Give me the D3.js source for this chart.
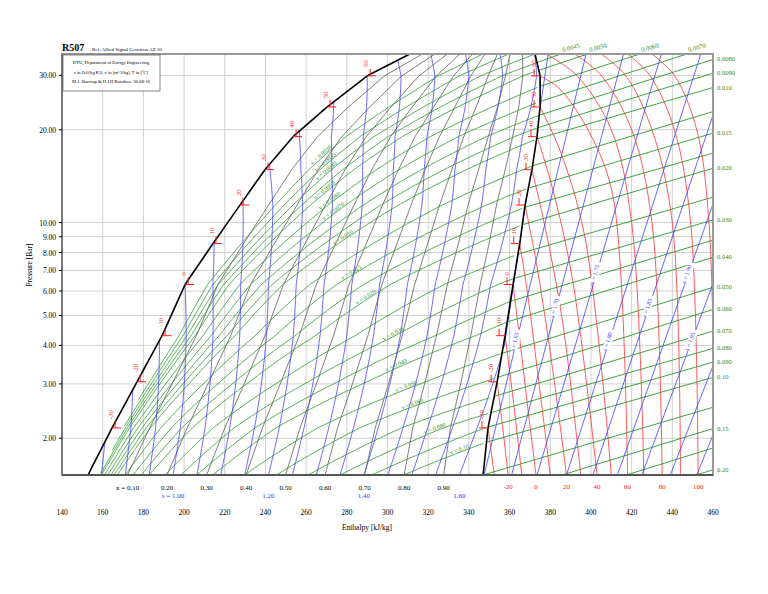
<!DOCTYPE html>
<html><head><meta charset="utf-8">
<script src="https://cdn.jsdelivr.net/npm/d3@7"></script>
<style>body{margin:0;background:#fff}svg{font-family:"Liberation Serif","Times New Roman",serif}text{fill:#000}</style>
</head><body><svg id="c" width="768" height="594"></svg>
<script>
// Saturation table (R507)
const satT  = [-50,-45,-38.5,-30,-20,-10,0,10,20,30,40,50,60,68];
const satP  = [0.83,1.07,1.52,2.16,3.05,4.3,6.3,8.55,11.4,14.85,19.0,23.7,29.9,35.2];
const satHl = [136,142,152.8,164.6,176.9,189.2,200.5,214.2,227.5,239.8,253.6,270.3,290,311];
const satHv = [340.8,343.5,347,349.4,353.9,357.8,361.7,365,367.6,371,373.5,375,375,372.5];
const satSl = [0.78,0.80,0.822,0.862,0.908,0.955,1.00,1.048,1.095,1.142,1.19,1.24,1.30,1.37];
const satVv = [0.22,0.175,0.125,0.0907,0.0621,0.0437,0.0314,0.0231,0.0172,0.0129,0.0098,0.0074,0.0054,0.0040];
const satVl = [0.00079,0.0008,0.00081,0.00083,0.00085,0.00088,0.00091,0.00095,0.00099,0.00105,0.00112,0.0012,0.00133,0.0016];
// axis ticks
const hTicks = [140,160,180,200,220,240,260,280,300,320,340,360,380,400,420,440,460];
const pTicks = [2,3,4,5,6,7,8,9,10,20,30];
const qualities = [0.1,0.2,0.3,0.4,0.5,0.6,0.7,0.8,0.9];
const markTemps = [-30,-20,-10,0,10,20,30,40,50,60];
// isentropes
const domeS = [0.85,0.90,0.95,1.00,1.05,1.10,1.15,1.20,1.25,1.30,1.35,1.40,1.45,1.50,1.55,1.60,1.65];
const sLabels = [1.00,1.20,1.40,1.60];
const vapS = [1.70,1.75,1.80,1.85,1.90,1.95,2.00,2.05];
const vapHBottom = [361,373.5,388,401,413,425,439,452];
const vapHTop = [416,434.6,454,470,486,502,520,536];
const s160Top = 379, s165Top = 397.6;
const vapSLabels = ["1.65","1.70","1.75","1.80","1.85","1.90","1.95"];
// isochores
const isoV = [0.003,0.0035,0.004,0.0045,0.005,0.006,0.007,0.008,0.009,0.010,0.0125,0.015,0.0175,0.020,0.025,0.030,0.035,0.040,0.050,0.060,0.070,0.080,0.090,0.10,0.125,0.15,0.175,0.20];
const isoPRight = [null,null,null,53,48,42,37.5,33.8,30.5,27.4,22.9,19.5,16.8,15.0,12.1,10.2,8.77,7.72,6.17,5.23,4.45,3.91,3.53,3.15,2.52,2.15,1.86,1.58];
const isoRightLabel = ["","","","","","","","0.0080","0.0090","0.010","","0.015","","0.020","","0.030","","0.040","0.050","0.060","0.070","0.080","0.090","0.10","","0.15","","0.20"];
const isoTopLabel = ["","","","0.0045","0.0050","0.0060","0.0070","","","","","","","","","","","","","","","","","","","","",""];
const domeVLabel = ["0.0030","0.0035","0.0040","","0.0050","0.0060","0.0070","","","0.010","","0.015","","0.020","","0.030","","0.040","0.050","0.060","","0.080","","0.10","","","",""];
// superheated isotherms [h,p]
const isoTemps = [-30,-20,-10,0,10,20,30,40,50,60,70,80,90,100,110];
const isoPts = [
 [[349.4,2.16],[351,1.8],[352.5,1.52]],
 [[353.9,3.05],[356.5,2.2],[359.3,1.52]],
 [[357.8,4.3],[362,2.6],[366,1.52]],
 [[361.7,6.3],[365,4.2],[369,2.5],[373,1.52]],
 [[365,8.55],[369,5.8],[374.5,3],[380,1.52]],
 [[367.6,11.4],[373,7.5],[380,3.8],[388,1.52]],
 [[371,14.85],[377,10],[386,4.8],[395,1.52]],
 [[373.5,19],[381,13],[391,6.5],[403,1.52]],
 [[375,23.7],[385,17],[397,9],[410,1.52]],
 [[375,29.9],[385,27],[401,18.6],[411,12],[418,1.52]],
 [[378,35.2],[393,30],[410,20],[420,10],[426,1.52]],
 [[392,35.2],[405,30],[420,20],[430,10],[435,1.52]],
 [[405,35.2],[417,30],[430,20],[440,10],[444,1.52]],
 [[418,35.2],[429,30],[441,20],[449,10],[452.7,1.52]],
 [[430,35.2],[441,30],[452,20],[458,10],[461,1.52]]];
const isoBottomLabels = [-20,0,20,40,60,80,100];

const svg = d3.select("#c");
const x = d3.scaleLinear().domain([140,460]).range([62,713]);
const y = d3.scaleLog().domain([1.52,35.2]).range([475,54]);
const pMin=1.52, pMax=35.2;
const lp = satP.map(Math.log);
function sat(p){
  const l=Math.log(p); let i=0;
  while(i<lp.length-2 && l>lp[i+1]) i++;
  const f=(l-lp[i])/(lp[i+1]-lp[i]);
  const L=(a)=>a[i]+f*(a[i+1]-a[i]);
  const G=(a)=>Math.exp(Math.log(a[i])+f*(Math.log(a[i+1])-Math.log(a[i])));
  return {hl:L(satHl),hv:L(satHv),sl:L(satSl),T:L(satT)+273.15,vv:G(satVv),vl:G(satVl)};
}
const N=240;
const pSamples = d3.range(N+1).map(i=>Math.exp(Math.log(pMin)+(Math.log(pMax)-Math.log(pMin))*i/N));
const line = d3.line().x(d=>x(d[0])).y(d=>y(d[1]));

const defs = svg.append("defs");
const liq = pSamples.map(p=>[sat(p).hl,p]);
const vap = pSamples.map(p=>[sat(p).hv,p]);
defs.append("clipPath").attr("id","plot").append("rect").attr("x",62).attr("y",54).attr("width",651).attr("height",421);
defs.append("clipPath").attr("id","dome").append("path").attr("d",line(liq.concat(vap.slice().reverse()))+"Z");
defs.append("clipPath").attr("id","vapr").append("path")
  .attr("d",line(vap)+`L${x(470)},${y(pMax)}L${x(470)},${y(pMin)}Z`);

const g = svg.append("g");
g.selectAll(".gv").data(hTicks.slice(1,-1)).join("line").attr("x1",d=>x(d)).attr("x2",d=>x(d)).attr("y1",54).attr("y2",475).attr("stroke","#d0d0d0").attr("stroke-width",1);
g.selectAll(".gh").data(pTicks).join("line").attr("x1",62).attr("x2",713).attr("y1",d=>y(d)).attr("y2",d=>y(d)).attr("stroke","#d0d0d0").attr("stroke-width",1);

const domeG = svg.append("g").attr("clip-path","url(#dome)");
const vapG = svg.append("g").attr("clip-path","url(#vapr)").append("g").attr("clip-path","url(#plot)");
const topG = svg.append("g").attr("clip-path","url(#plot)");

const cr = d3.line().x(d=>x(d[0])).y(d=>y(d[1])).curve(d3.curveCatmullRom);
vapG.selectAll(".it").data(isoPts).join("path").attr("d",cr).attr("fill","none").attr("stroke","#ff3030").attr("stroke-width",0.8);

qualities.forEach(q=>{
  const pts=pSamples.map(p=>{const s=sat(p);return [s.hl+q*(s.hv-s.hl),p];});
  domeG.append("path").attr("d",line(pts)).attr("fill","none").attr("stroke","#555").attr("stroke-width",0.8);
  svg.append("text").attr("x",x(pts[0][0])).attr("y",490).attr("text-anchor","middle").attr("font-size",7).text((q===0.1?"x = ":"")+q.toFixed(2));
});

const fine=d3.range(0,401).map(i=>Math.exp(Math.log(0.83)+(Math.log(35.2)-Math.log(0.83))*i/400));
isoV.forEach((v,k)=>{
  const pts=[];
  pSamples.forEach(p=>{const s=sat(p);const q=(v-s.vl)/(s.vv-s.vl); if(q>=0.03&&q<=1.0) pts.push([s.hl+q*(s.hv-s.hl),p]);});
  if(pts.length>1){
    domeG.append("path").attr("d",line(pts)).attr("fill","none").attr("stroke","#2a9a2a").attr("stroke-width",0.8);
    if(domeVLabel[k]){
      const j=Math.floor(pts.length*0.7);
      const m=pts[j], m2=pts[Math.min(pts.length-1,j+3)];
      const ang=Math.atan2(y(m2[1])-y(m[1]),x(m2[0])-x(m[0]))*180/Math.PI;
      svg.append("text").attr("transform",`translate(${x(m[0])},${y(m[1])-1}) rotate(${ang})`).attr("font-size",6).style("fill","#2a8a2a").attr("text-anchor","middle").text("v = "+domeVLabel[k]);
    }
  }
  let ps=null;
  for(let i=0;i<fine.length-1;i++){const a=sat(fine[i]).vv,b=sat(fine[i+1]).vv; if(a>=v&&b<=v){ps=fine[i]+(fine[i+1]-fine[i])*(a-v)/(a-b);break;}}
  if(ps&&isoPRight[k]){
    const start=[sat(ps).hv,ps], end=[460,isoPRight[k]];
    vapG.append("path").attr("d",line([start,end])).attr("fill","none").attr("stroke","#2a9a2a").attr("stroke-width",0.9);
    if(isoRightLabel[k]) svg.append("text").attr("x",717).attr("y",y(end[1])+2).attr("font-size",6.5).style("fill","#2a8a2a").text(isoRightLabel[k]);
    if(isoTopLabel[k]){
      const f=(Math.log(pMax)-Math.log(start[1]))/(Math.log(end[1])-Math.log(start[1]));
      const ht=start[0]+f*(end[0]-start[0]);
      svg.append("text").attr("transform",`translate(${x(ht)+2},${52}) rotate(-15)`).attr("font-size",6.5).style("fill","#2a8a2a").text(isoTopLabel[k]);
    }
  }
});

const exitPts={};
domeS.forEach(sv=>{
  const pts=[];
  pSamples.forEach(p=>{const s=sat(p);const h=s.hl+s.T*(sv-s.sl); if(h>=s.hl-0.5&&h<=s.hv+0.5) pts.push([h,p]);});
  if(pts.length>1){
    domeG.append("path").attr("d",line(pts)).attr("fill","none").attr("stroke","#4040ff").attr("stroke-width",0.8);
    exitPts[sv.toFixed(2)]=pts;
  }
});
sLabels.forEach(sv=>{const s=sat(pMin);const h=s.hl+s.T*(sv-s.sl);
  svg.append("text").attr("x",x(h)).attr("y",498).attr("text-anchor","middle").attr("font-size",7).style("fill","#3333ff").text((sv===1?"s = ":"")+sv.toFixed(2));});
function vline(a,b){vapG.append("path").attr("d",line([a,b])).attr("fill","none").attr("stroke","#4040ff").attr("stroke-width",0.8);}
const vs=[];
if(exitPts["1.60"]){const pts=exitPts["1.60"]; const e=pts[pts.length-1]; vs.push([[e[0],e[1]],[s160Top,pMax]]);}
vs.push([[347.5,pMin],[s165Top,pMax]]);
vapS.forEach((s,i)=>vs.push([[vapHBottom[i],pMin],[vapHTop[i],pMax]]));
vs.forEach(d=>vline(d[0],d[1]));
vs.slice(-9).forEach((d,i)=>{
  if(!vapSLabels[i])return;
  const f=0.32+0.08*(i%3); const lpA=Math.log(d[0][1]),lpB=Math.log(d[1][1]);
  const p=Math.exp(lpA+f*(lpB-lpA)), h=d[0][0]+f*(d[1][0]-d[0][0]);
  if(h>452)return;
  const ang=Math.atan2(y(d[1][1])-y(d[0][1]),x(d[1][0])-x(d[0][0]))*180/Math.PI;
  svg.append("rect").attr("x",x(h)-11).attr("y",y(p)-4).attr("width",22).attr("height",7).attr("fill","#fff").attr("transform",`rotate(${ang},${x(h)},${y(p)})`);
  svg.append("text").attr("transform",`translate(${x(h)},${y(p)+2}) rotate(${ang})`).attr("font-size",6).style("fill","#3333ff").attr("text-anchor","middle").text("s = "+vapSLabels[i]);
});

topG.append("path").attr("d",line(liq)).attr("fill","none").attr("stroke","#000").attr("stroke-width",1.6);
topG.append("path").attr("d",line(vap)).attr("fill","none").attr("stroke","#000").attr("stroke-width",1.6);

markTemps.forEach(T=>{
  const i=satT.indexOf(T); const px=x(satHl[i]), py=y(satP[i]);
  svg.append("path").attr("d",`M${px},${py}H${px+9}M${px+3},${py}V${py-7}`).attr("stroke","#ff2020").attr("fill","none");
  svg.append("text").attr("transform",`translate(${px+1},${py-9}) rotate(-90)`).attr("font-size",6.5).style("fill","#ff2020").text(T);
  const vx=x(satHv[i]);
  svg.append("path").attr("d",`M${vx},${py}H${vx-9}M${vx-6},${py}V${py-7}`).attr("stroke","#ff2020").attr("fill","none");
  svg.append("text").attr("transform",`translate(${vx-4},${py-9}) rotate(-90)`).attr("font-size",6.5).style("fill","#ff2020").text(T);
});
isoBottomLabels.forEach(T=>{const k=isoTemps.indexOf(T);const pts=isoPts[k];const b=pts[pts.length-1];
  svg.append("text").attr("x",x(b[0])).attr("y",489).attr("text-anchor","middle").attr("font-size",7).style("fill","#ff2020").text(T);});

svg.append("rect").attr("x",62).attr("y",54).attr("width",651).attr("height",421).attr("fill","none").attr("stroke","#999").attr("stroke-width",2);
svg.append("line").attr("x1",62).attr("x2",713).attr("y1",475).attr("y2",475).attr("stroke","#555").attr("stroke-width",2);
svg.append("line").attr("x1",62).attr("x2",62).attr("y1",54).attr("y2",475).attr("stroke","#555").attr("stroke-width",1);

svg.selectAll(".ht").data(hTicks).join("text").attr("x",d=>x(d)).attr("y",515).attr("text-anchor","middle").attr("font-size",7.5).text(d=>d);
svg.selectAll(".pt").data(pTicks).join("text").attr("x",56).attr("y",d=>y(d)+3).attr("text-anchor","end").attr("font-size",7.5).text(d=>d.toFixed(2));
svg.selectAll(".ptk").data(pTicks).join("line").attr("x1",59).attr("x2",62).attr("y1",d=>y(d)).attr("y2",d=>y(d)).attr("stroke","#000");
svg.append("text").attr("x",367).attr("y",530).attr("text-anchor","middle").attr("font-size",7.5).text("Enthalpy [kJ/kg]");
svg.append("text").attr("transform","translate(32,265) rotate(-90)").attr("text-anchor","middle").attr("font-size",7.5).text("Pressure [Bar]");

svg.append("text").attr("x",62).attr("y",51).attr("font-size",10).attr("font-weight","bold").text("R507");
svg.append("text").attr("x",92).attr("y",51).attr("font-size",5).text("Ref: Allied Signal Genetron AZ 50");
svg.append("rect").attr("x",63).attr("y",55).attr("width",97).attr("height",36).attr("fill","#fff").attr("stroke","#555").attr("stroke-width",0.7);
["DTU, Department of Energy Engineering","s in [kJ/(kg K)]. v in [m^3/kg]. T in [ºC]","M.J. Skovrup & H.J.H Knudsen. 20-08-16"].forEach((t,i)=>
  svg.append("text").attr("x",111).attr("y",64+i*9.5).attr("text-anchor","middle").attr("font-size",4.6).text(t));
</script></body></html>
